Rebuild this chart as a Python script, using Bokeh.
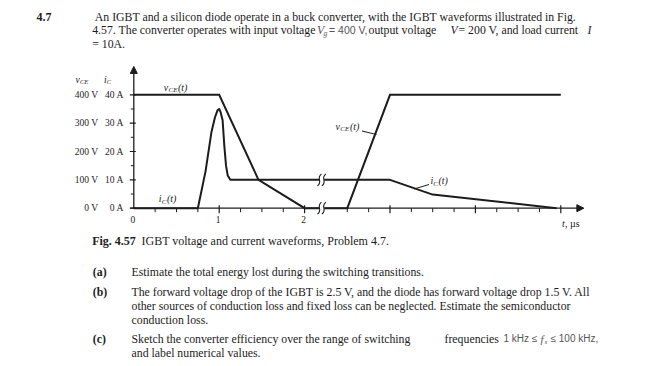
from bokeh.plotting import figure
from bokeh.models import Range1d, Arrow, NormalHead
from bokeh.core.properties import value
from bokeh.embed import file_html
from bokeh.resources import INLINE

# ---------------- data ----------------
# IGBT collector-emitter voltage v_CE(t)  (t in us, V)
t_vce = [0.0, 1.0, 1.46, 2.0, 2.5, 3.0, 5.0]
v_vce = [400, 400, 100, 0, 0, 400, 400]
# IGBT collector current i_C(t)  (t in us, A)
t_ic = [0.0, 0.75, 0.84, 0.91, 0.95, 0.98, 1.0, 1.015, 1.04, 1.06, 1.08, 1.10, 1.13, 3.0, 3.5, 4.95]
i_ic = [0, 0, 13, 27, 32, 34.5, 35, 34, 31, 22, 15, 11.5, 10, 10, 4.8, 0]
# axes
v_major = [0, 100, 200, 300, 400]
v_minor = [50, 150, 250, 350]
v_labels = ["0 V", "100 V", "200 V", "300 V", "400 V"]
i_major = [0, 10, 20, 30, 40]
i_labels = ["0 A", "10 A", "20 A", "30 A", "40 A"]
t_major = [1, 2, 3, 4, 5]
t_minor = [0.25, 0.5, 0.75, 1.25, 1.5, 1.75, 2.5, 2.75, 3.25, 3.5, 3.75, 4.25, 4.5, 4.75]
t_labels_at = [0, 1, 2]
t_labels = ["0", "1", "2"]
t_axis_end = 5.27
v_axis_end = 500
break_t = 2.2
break_levels = [100, 0]

# ---------------- page geometry (screen px -> data) ----------------
X0, KX = 133.3, 85.4      # px of t=0, px per us
Y0, KY = 207.7, 0.2835    # px of 0 V, px per V
W, H = 641, 364
OFF = 0

def px2t(px):
    return (px - X0) / KX

def py2v(py):
    return (Y0 - py) / KY

p = figure(width=W, height=H, output_backend="svg", toolbar_location=None,
           x_range=Range1d(px2t(OFF), px2t(OFF + W)),
           y_range=Range1d(py2v(OFF + H), py2v(OFF)),
           x_axis_type=None, y_axis_type=None, min_border=0)
p.extra_y_ranges = {"amps": Range1d(py2v(OFF + H) / 10, py2v(OFF) / 10)}
p.outline_line_color = None
p.background_fill_color = "white"
p.border_fill_color = "white"

INK = "#1c1c1c"
SERIF = value("Liberation Serif")
SANS = value("Liberation Sans")

def txt(px, py, s, size=11, style="normal", align="left", color=INK, font=SERIF):
    p.text(x=[px2t(px)], y=[py2v(py)], text=[s], text_font=font,
           text_font_size=f"{size}px", text_font_style=style, text_align=align,
           text_baseline="middle", text_color=color)

dxp = 1 / KX   # one px in t
dyp = 1 / KY   # one px in V

# ---------------- axes ----------------
p.line([px2t(130), t_axis_end - 6 * dxp], [0, 0], line_color=INK, line_width=1.3)
p.add_layout(Arrow(end=NormalHead(size=7, fill_color=INK, line_color=INK),
                   x_start=t_axis_end - 6 * dxp, y_start=0, x_end=t_axis_end, y_end=0,
                   line_color=INK, line_width=1.3))
p.add_layout(Arrow(end=NormalHead(size=7, fill_color=INK, line_color=INK),
                   x_start=0, y_start=0, x_end=0, y_end=v_axis_end,
                   line_color=INK, line_width=1.3))
# y ticks
p.segment(x0=[-4 * dxp] * len(v_major), y0=v_major, x1=[2 * dxp] * len(v_major), y1=v_major,
          line_color=INK, line_width=1.2)
p.segment(x0=[-3 * dxp] * len(v_minor), y0=v_minor, x1=[0] * len(v_minor), y1=v_minor,
          line_color=INK, line_width=1.0)
# x ticks
p.segment(x0=t_major, y0=[3 * dyp] * len(t_major), x1=t_major, y1=[-5 * dyp] * len(t_major),
          line_color=INK, line_width=1.2)
p.segment(x0=t_minor, y0=[0] * len(t_minor), x1=t_minor, y1=[-4 * dyp] * len(t_minor),
          line_color=INK, line_width=1.0)

# ---------------- waveforms ----------------
p.line(t_vce, v_vce, line_color=INK, line_width=2.0, line_join="miter")
p.line(t_ic, i_ic, line_color=INK, line_width=2.0, line_join="round", y_range_name="amps")

# axis break marks
for lv in break_levels:
    p.quad(left=[break_t - 2.5 * dxp], right=[break_t + 2.5 * dxp],
           bottom=[lv - 2 * dyp], top=[lv + 2 * dyp], fill_color="white", line_color=None)
    for off in (-2.2, 2.2):
        xc = break_t + off * dxp
        p.bezier(x0=[xc - 2 * dxp], y0=[lv - 6 * dyp], x1=[xc + 2 * dxp], y1=[lv + 6 * dyp],
                 cx0=[xc + 4 * dxp], cy0=[lv - 1 * dyp], cx1=[xc - 4 * dxp], cy1=[lv + 1 * dyp],
                 line_color=INK, line_width=1.1)

# ---------------- axis labels ----------------
for v, s in zip(v_major, v_labels):
    txt(97.7, Y0 - v * KY, s, size=9.5, align="right")
p.text(x=[px2t(123.3)] * len(i_major), y=i_major, text=i_labels, text_font=SERIF,
       text_font_size="9.5px", text_align="right", text_baseline="middle",
       text_color=INK, y_range_name="amps")
for tv, s in zip(t_labels_at, t_labels):
    txt(X0 + tv * KX - 1, 218.5, s, size=9.5, align="center")
txt(75, 79, "v", size=9.5, style="italic")
txt(79.5, 81, "CE", size=6.5, style="italic")
txt(103.5, 79, "i", size=9.5, style="italic")
txt(106.3, 81, "C", size=6.5, style="italic")
txt(561.5, 222.5, "t", size=10, style="italic")
txt(564.5, 222.5, ", µs", size=10)

# curve labels
txt(163.3, 87, "v", size=10, style="italic")
txt(168.0, 89.5, "CE", size=7, style="italic")
txt(177.5, 87, "(t)", size=10, style="italic")

txt(335, 125.5, "v", size=10, style="italic")
txt(339.8, 128, "CE", size=7, style="italic")
txt(349.5, 125.5, "(t)", size=10, style="italic")
p.line([px2t(361.5), px2t(376)], [py2v(130.5), py2v(134)], line_color=INK, line_width=1.0)

txt(158.3, 198, "i", size=10, style="italic")
txt(161.2, 201, "C", size=7, style="italic")
txt(166.5, 198, "(t)", size=10, style="italic")

txt(430, 180, "i", size=10, style="italic")
txt(432.8, 183, "C", size=7, style="italic")
txt(438, 180, "(t)", size=10, style="italic")
p.line([px2t(428.5), px2t(413.5)], [py2v(184), py2v(188.5)], line_color=INK, line_width=1.0)

# ---------------- page text ----------------
FS = 11.8
txt(36, 16, "4.7", size=12, style="bold")
txt(94.3, 16, "An IGBT and a silicon diode operate in a buck converter, with the IGBT waveforms illustrated in Fig.", size=FS)
txt(91.7, 29.5, "4.57. The converter operates with input voltage", size=FS)
txt(316.5, 29.5, "V", size=FS, style="italic", color="#555555")
txt(323.0, 32.5, "g", size=7.5, style="italic", color="#555555")
txt(328.5, 29.5, "= 400 V,", size=10.5, color="#555555", font=SANS)
txt(368, 29.5, "output voltage", size=FS)
txt(450, 29.5, "V", size=FS, style="italic")
txt(458, 29.5, "= 200 V, and load current", size=FS)
txt(587, 29.5, "I", size=FS, style="italic")
txt(91.7, 43.3, "=  10A.", size=FS)

txt(91.7, 240.7, "Fig. 4.57", size=12, style="bold")
txt(141, 240.7, "IGBT voltage and current waveforms, Problem 4.7.", size=12)

txt(92.3, 271.7, "(a)", size=FS, style="bold")
txt(131, 271.7, "Estimate the total energy  lost during the switching transitions.", size=FS)
txt(92.3, 291, "(b)", size=FS, style="bold")
txt(131, 291, "The forward voltage drop of the IGBT is 2.5 V, and the diode has forward voltage drop 1.5 V. All", size=FS)
txt(131, 305, "other sources of conduction loss and fixed loss can be neglected. Estimate the semiconductor", size=FS)
txt(131, 319, "conduction loss.", size=FS)
txt(92.3, 338.3, "(c)", size=FS, style="bold")
txt(131, 338.3, "Sketch the converter efficiency over the range of switching", size=FS)
txt(444, 338.3, "frequencies", size=FS)
txt(503, 338.3, "1 kHz ≤", size=10, color="#555555", font=SANS)
txt(540, 338.3, "f", size=11, style="italic", color="#555555")
txt(544, 341, "s", size=7, style="italic", color="#555555")
txt(550, 338.3, "≤ 100 kHz,", size=10, color="#555555", font=SANS)
txt(131, 352.3, "and label numerical values.", size=FS)

open("out.html", "w").write(file_html(p, INLINE))
